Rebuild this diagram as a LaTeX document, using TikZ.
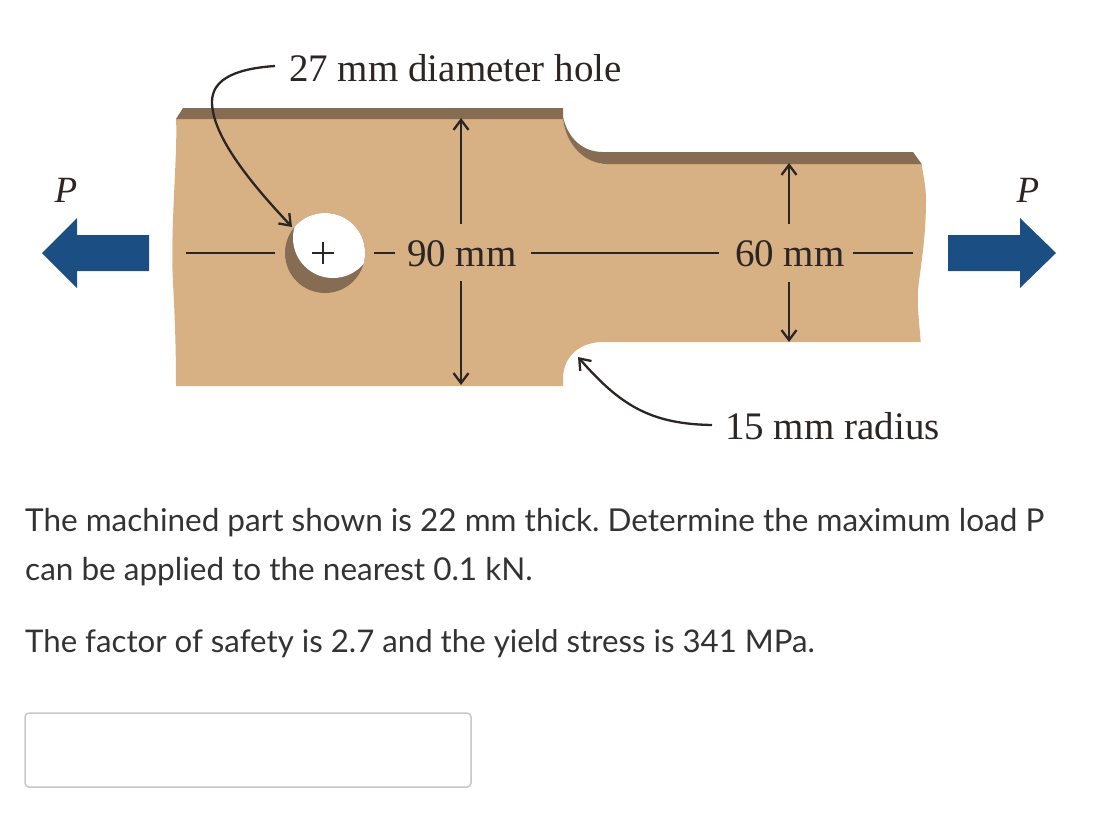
\documentclass[tikz,border=0pt]{standalone}
\usepackage{fontspec}
\setmainfont{Liberation Serif}
\newfontfamily\uifont{Lato}
\usetikzlibrary{arrows.meta}
\frenchspacing
\definecolor{partbody}{HTML}{D7B084}
\definecolor{partshade}{HTML}{866C52}
\definecolor{loadblue}{HTML}{1B4F83}
\definecolor{inkdark}{HTML}{2B2523}
\definecolor{uitext}{HTML}{333333}
\tikzset{
  figlabel/.style={anchor=base west,inner sep=0pt,text=inkdark,font=\fontsize{39}{45}\selectfont},
  loadlabel/.style={anchor=base,inner sep=0pt,text=inkdark,font=\fontsize{37}{42}\selectfont\itshape},
  uiline/.style={anchor=base west,inner sep=0pt,text=uitext,font=\uifont\fontsize{31.5}{38}\selectfont},
  uilinetight/.style={uiline,font=\uifont\fontsize{31.2}{38}\selectfont},
  dimline/.style={draw=inkdark,line width=2.3pt},
  dimarrow/.style={dimline,-{Straight Barb[length=10pt,width=15pt,line width=2.3pt]}},
  loadarrow/.style={fill=loadblue,draw=none}
}
\begin{document}
\begin{tikzpicture}[x=1pt,y=-1pt]
\useasboundingbox (0,0) rectangle (1114,814);
% part body
\fill[partbody] (176,119) .. controls (178,150) and (170,230) .. (173,283) .. controls (175,320) and (176,350) .. (176,386)
  -- (563,386) -- (563,377) .. controls (564,356) and (580,342) .. (603,342)
  -- (920.7,342) .. controls (919,320) and (917,305) .. (918,290) .. controls (920,270) and (926,240) .. (926,200) .. controls (926,185) and (923,175) .. (921.7,164)
  -- (607,164) .. controls (585,164) and (566,145) .. (563,119) -- cycle;
% top faces
\fill[partshade] (176,119) -- (183,108) -- (563,108) -- (563,119) -- cycle;
\fill[partshade] (563,117) .. controls (568,138) and (582,152) .. (603,152) -- (913,152) -- (921.7,164) -- (607,164) .. controls (585,164) and (566,145) .. (563,119) -- cycle;
% hole
\fill[partshade] (325,253) circle (40);
\begin{scope}
  \clip (325,253) circle (40);
  \fill[white] (333,238) circle (40);
\end{scope}
% plus
\coordinate (plusL) at (312,253);
\coordinate (plusR) at (334,253);
\coordinate (plusT) at (323,242);
\coordinate (plusB) at (323,264);
\draw[dimline] (plusL) -- (plusR);
\draw[dimline] (plusT) -- (plusB);
% labels
\node[figlabel] (holeLabel) at (289,81) {27 mm diameter hole};
\node[figlabel] (w90) at (407,266) {90 mm};
\node[figlabel] (w60) at (735,266) {60 mm};
\node[figlabel] (radLabel) at (725,439) {15 mm radius};
\node[loadlabel] (pL) at (66,202) {P};
\node[loadlabel] (pR) at (1028,202) {P};
% centre line
\coordinate (c1) at (186,253);
\coordinate (c2) at (275,253);
\coordinate (c3) at (374,253);
\coordinate (c4) at (395,253);
\coordinate (c5) at (531,253);
\coordinate (c6) at (719,253);
\coordinate (c7) at (853,253);
\coordinate (c8) at (913,253);
\draw[dimline] (c1) -- (c2);
\draw[dimline] (c3) -- (c4);
\draw[dimline] (c5) -- (c6);
\draw[dimline] (c7) -- (c8);
% dimensions
\coordinate (a1) at (461,224);
\coordinate (a2) at (461,118);
\coordinate (a3) at (461,281);
\coordinate (a4) at (461,385);
\coordinate (b1) at (789,224);
\coordinate (b2) at (789,163);
\coordinate (b3) at (789,282);
\coordinate (b4) at (789,342);
\draw[dimarrow] (a1) -- (a2);
\draw[dimarrow] (a3) -- (a4);
\draw[dimarrow] (b1) -- (b2);
\draw[dimarrow] (b3) -- (b4);
% leaders
\coordinate (hs) at (275,66);
\coordinate (he) at (292,227);
\coordinate (rs) at (712,425);
\coordinate (re) at (578,357);
\draw[dimarrow] (hs) .. controls (230,69) and (212,82) .. (212,102) .. controls (212,140) and (262,195) .. (he);
\draw[dimarrow] (rs) .. controls (650,424) and (620,405) .. (re);
% load arrows
\fill[loadarrow] (42,253) -- (77,218) -- (77,235) -- (149,235) -- (149,271) -- (77,271) -- (77,288) -- cycle;
\fill[loadarrow] (1056,253) -- (1020,218) -- (1020,235) -- (948,235) -- (948,271) -- (1020,271) -- (1020,288) -- cycle;
% question text
\node[uiline] (q1) at (25,531) {The machined part shown is 22 mm thick. Determine the maximum load P};
\node[uiline] (q2) at (25,580) {can be applied to the nearest 0.1 kN.};
\node[uilinetight] (q3) at (25,652) {The factor of safety is 2.7 and the yield stress is 341 MPa.};
% answer box
\draw[draw=black!22,line width=1.5pt,rounded corners=4pt,fill=white] (25,713) rectangle (471,787);
\end{tikzpicture}
\end{document}
